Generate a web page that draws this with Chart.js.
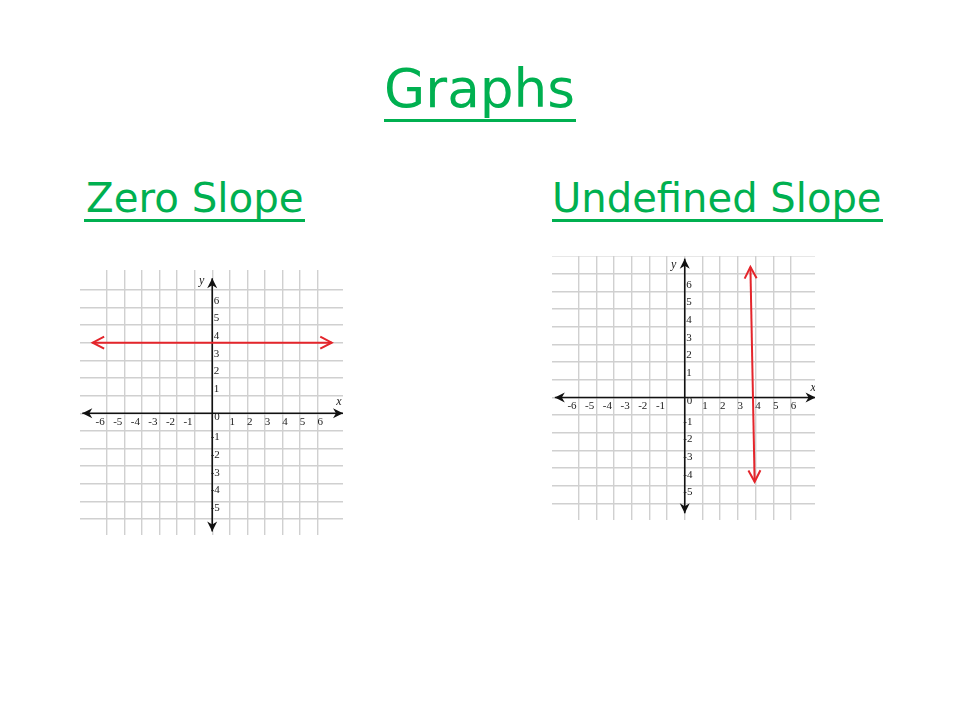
<!DOCTYPE html>
<html>
<head>
<meta charset="utf-8">
<title>Graphs</title>
<script src="https://cdn.jsdelivr.net/npm/chart.js@4.4.0/dist/chart.umd.min.js"></script>
<style>
  body { margin: 0; background: #fff; width: 960px; height: 720px; position: relative; overflow: hidden; }
  .head { position: absolute; color: #00b050; white-space: nowrap; font-family: 'Comic Sans MS', 'DejaVu Sans', sans-serif; }
  .rule { position: absolute; background: #00b050; }
  .plot { position: absolute; }
</style>
</head>
<body>
<div class="head" id="title">Graphs</div>
<div class="head" id="sub1">Zero Slope</div>
<div class="head" id="sub2">Undefined Slope</div>
<div class="plot" style="left:80px;top:270px;"><canvas id="zero" width="263" height="265"></canvas></div>
<div class="plot" style="left:552px;top:256px;"><canvas id="undef" width="263" height="264"></canvas></div>
<script>
// tick labels
var xTicks = [-6, -5, -4, -3, -2, -1, 1, 2, 3, 4, 5, 6];
var yTicks = [6, 5, 4, 3, 2, 1, -1, -2, -3, -4, -5];

// the red lines
var zeroSlopeLine = [{x: -6.8, y: 4}, {x: 6.8, y: 4}];
var undefinedSlopeLine = [{x: 3.71, y: 7.38}, {x: 3.95, y: -4.77}];

// how far the black axes reach on each sheet
var zeroAxisX = [{x: -7.39, y: 0}, {x: 7.44, y: 0}];
var zeroAxisY = [{x: 0, y: -6.7}, {x: 0, y: 7.65}];
var undefAxisX = [{x: -7.34, y: 0}, {x: 7.39, y: 0}];
var undefAxisY = [{x: 0, y: -6.55}, {x: 0, y: 7.85}];

// headings: text, ink left, ink width, baseline, underline
var headings = [
  {id: 'title', left: 386, width: 186, base: 107, line: [384, 576, 118.5, 3.3]},
  {id: 'sub1', left: 87, width: 215, base: 212, line: [84, 305, 218.5, 3]},
  {id: 'sub2', left: 555, width: 325, base: 212, line: [552, 883, 218.5, 3]},
];

var measure = document.createElement('canvas').getContext('2d');
var family = "'Comic Sans MS', 'DejaVu Sans', sans-serif";
headings.forEach(function(h) {
  var el = document.getElementById(h.id);
  measure.font = '40px ' + family;
  var m = measure.measureText(el.textContent);
  var size = 40 * h.width / (m.actualBoundingBoxRight + m.actualBoundingBoxLeft);
  measure.font = size + 'px ' + family;
  m = measure.measureText(el.textContent);
  el.style.fontSize = size + 'px';
  el.style.lineHeight = (m.fontBoundingBoxAscent + m.fontBoundingBoxDescent) + 'px';
  el.style.left = (h.left + m.actualBoundingBoxLeft) + 'px';
  el.style.top = (h.base - m.fontBoundingBoxAscent) + 'px';
  var rule = document.createElement('div');
  rule.className = 'rule';
  rule.style.left = h.line[0] + 'px';
  rule.style.width = (h.line[1] - h.line[0]) + 'px';
  rule.style.top = h.line[2] + 'px';
  rule.style.height = h.line[3] + 'px';
  document.body.appendChild(rule);
});

var graphPaper = {
  id: 'graphPaper',
  afterDatasetsDraw: function(chart, args, opts) {
    var ctx = chart.ctx;
    chart.data.datasets.forEach(function(ds, i) {
      if (!ds.arrows) return;
      var pts = chart.getDatasetMeta(i).data;
      [[pts[0], pts[1]], [pts[pts.length - 1], pts[pts.length - 2]]].forEach(function(p) {
        var tip = p[0], from = p[1];
        ctx.save();
        ctx.translate(tip.x, tip.y);
        ctx.rotate(Math.atan2(tip.y - from.y, tip.x - from.x));
        ctx.beginPath();
        if (ds.arrows === 'solid') {
          ctx.moveTo(0, 0);
          ctx.lineTo(-10, -5);
          ctx.lineTo(-7, 0);
          ctx.lineTo(-10, 5);
          ctx.closePath();
          ctx.fillStyle = ds.borderColor;
          ctx.fill();
        } else {
          ctx.moveTo(-11.5, -6);
          ctx.lineTo(0, 0);
          ctx.lineTo(-11.5, 6);
          ctx.strokeStyle = ds.borderColor;
          ctx.lineWidth = ds.borderWidth;
          ctx.stroke();
        }
        ctx.restore();
      });
    });

    var xs = chart.scales.x, ys = chart.scales.y;
    var ox = xs.getPixelForValue(0), oy = ys.getPixelForValue(0);
    ctx.save();
    ctx.fillStyle = '#222';
    ctx.font = '11px "Liberation Serif", serif';
    ctx.textBaseline = 'middle';
    opts.xLabels.forEach(function(v) {
      var px = xs.getPixelForValue(v);
      if (v < 0) {
        ctx.textAlign = 'right';
        ctx.fillText(String(v), px - 2, oy + 8.5);
      } else {
        ctx.textAlign = 'center';
        ctx.fillText(String(v), px + 2.5, oy + 8.5);
      }
    });
    ctx.textAlign = 'left';
    opts.yLabels.forEach(function(v) {
      var py = ys.getPixelForValue(v);
      if (v < 0) ctx.fillText(String(v), ox - 1.5, py + 6.5);
      else ctx.fillText(String(v), ox + 1.5, py - 6.5);
    });
    ctx.fillText('0', ox + 2, oy + 4);
    ctx.font = 'italic 12px "Liberation Serif", serif';
    ctx.fillText('x', xs.getPixelForValue(opts.xName[0]), ys.getPixelForValue(opts.xName[1]));
    ctx.fillText('y', xs.getPixelForValue(opts.yName[0]), ys.getPixelForValue(opts.yName[1]));
    ctx.restore();
  }
};

function gridScale(min, max) {
  return {
    type: 'linear',
    min: min,
    max: max,
    ticks: {display: false, stepSize: 1},
    grid: {color: '#d0d0d0', lineWidth: 1.4, drawTicks: false},
    border: {display: false},
    afterBuildTicks: function(scale) {
      scale.ticks = scale.ticks.filter(function(t) { return Number.isInteger(t.value); });
    }
  };
}

function sheet(id, redLine, axisX, axisY, xRange, yRange, xName, yName) {
  return new Chart(document.getElementById(id), {
    type: 'scatter',
    data: {
      datasets: [
        {data: redLine, showLine: true, borderColor: '#e4252b', borderWidth: 2, pointRadius: 0, arrows: 'open', order: 0},
        {data: axisX, showLine: true, borderColor: '#111', borderWidth: 1.6, pointRadius: 0, arrows: 'solid', order: 1},
        {data: axisY, showLine: true, borderColor: '#111', borderWidth: 1.6, pointRadius: 0, arrows: 'solid', order: 1},
      ]
    },
    options: {
      responsive: false,
      animation: false,
      layout: {padding: 0},
      scales: {x: gridScale(xRange[0], xRange[1]), y: gridScale(yRange[0], yRange[1])},
      plugins: {
        legend: {display: false},
        tooltip: {enabled: false},
        graphPaper: {xLabels: xTicks, yLabels: yTicks, xName: xName, yName: yName}
      }
    },
    plugins: [graphPaper]
  });
}

sheet('zero', zeroSlopeLine, zeroAxisX, zeroAxisY, [-7.52, 7.44], [-6.9, 8.12], [7.05, 0.62], [-0.75, 7.5]);
sheet('undef', undefinedSlopeLine, undefAxisX, undefAxisY, [-7.5, 7.36], [-6.93, 8.0], [7.1, 0.55], [-0.78, 7.5]);
</script>
</body>
</html>
